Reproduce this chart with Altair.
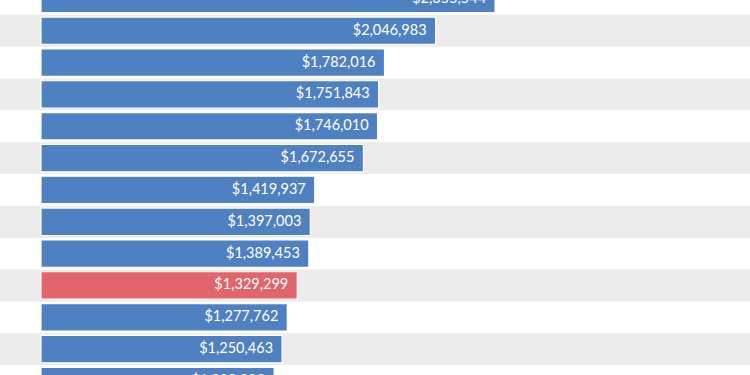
import altair as alt
import pandas as pd

ranks = [str(i) for i in range(1, 14)]
amounts = [2355544, 2046983, 1782016, 1751843, 1746010, 1672655, 1419937,
           1397003, 1389453, 1329299, 1277762, 1250463, 1209300]
highlight = [False, False, False, False, False, False, False,
             False, False, True, False, False, False]

df = pd.DataFrame({"rank": ranks, "amount": amounts, "highlight": highlight})
df["label"] = df["amount"].map(lambda v: f"${v:,.0f}")
df["stripe"] = [i % 2 == 1 for i in range(len(df))]

yscale = alt.Scale(domain=ranks, range=[-17.0, 396.9], paddingInner=0, paddingOuter=0)
y = alt.Y("rank:N", scale=yscale, axis=None, sort=ranks)
xscale = alt.Scale(domain=[0, 3678000], nice=False, zero=True)

stripes = alt.Chart(df).transform_filter("datum.stripe").mark_rect(
    color="#ebebeb"
).encode(
    y=y,
    x=alt.value(-41),
    x2=alt.value(709),
)

bars = alt.Chart(df).mark_bar(
    height={"band": 0.86}, stroke="white", strokeWidth=1.2
).encode(
    y=y,
    x=alt.X("amount:Q", scale=xscale, axis=None),
    color=alt.Color(
        "highlight:N",
        scale=alt.Scale(domain=[False, True], range=["#4f80c2", "#e2656b"]),
        legend=None,
    ),
)

labels = alt.Chart(df).mark_text(
    align="right", baseline="middle", dx=-9, color="white",
    font="Lato", fontSize=14.5
).encode(
    y=y,
    x=alt.X("amount:Q", scale=xscale, axis=None),
    text="label:N",
)

chart = alt.layer(stripes, bars, labels).properties(
    width=709, height=375,
    padding={"left": 41, "right": 0, "top": 0, "bottom": 0},
    autosize=alt.AutoSizeParams(type="none"),
).configure_view(stroke=None)

chart.save("out.html", embed_options={"renderer": "svg", "actions": False})
